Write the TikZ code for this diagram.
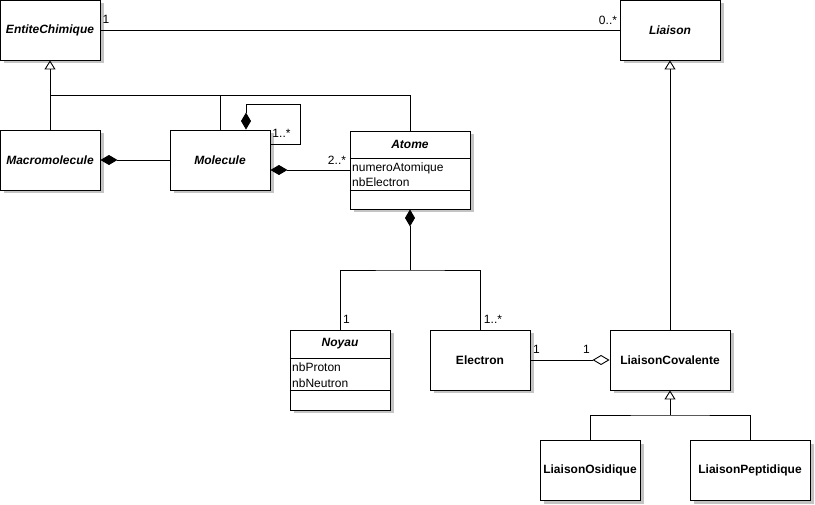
\documentclass[tikz,border=0pt]{standalone}
\usepackage{fontspec}
\setmainfont{Liberation Sans}
\usepackage{tikz}
\usetikzlibrary{positioning,arrows.meta,calc,shadows}
\definecolor{ink}  {HTML}{000000}
\definecolor{shade}{HTML}{C4C4C4}
\newcommand\umlfont{\fontsize{12}{15.5}\selectfont}
\tikzset{
  every node/.style={font=\umlfont},
  % --- nodes
  box/.style   = {draw=ink, fill=white, line width=0.9pt, inner sep=0pt,
                  minimum width=100pt, minimum height=60pt, font=\umlfont\bfseries,
                  drop shadow={shadow xshift=3.5pt, shadow yshift=-3.5pt,
                               fill=shade, opacity=1}},
  abs/.style   = {box, font=\umlfont\bfseries\itshape},
  cname/.style = {inner sep=0pt, font=\umlfont\bfseries\itshape},
  attr/.style  = {inner sep=0pt, align=left, anchor=west},
  mult/.style  = {inner sep=0pt},
  % --- edges
  line/.style  = {draw=ink, line width=0.9pt},
  sep/.style   = {line},
  gen/.style   = {line, -{Triangle[open, length=9pt, width=11pt, fill=white]}},
  comp/.style  = {line, -{Diamond[length=17pt, width=10pt]}},
  agg/.style   = {line, -{Diamond[open, length=17pt, width=10pt, fill=white]}},
}
\begin{document}
\begin{tikzpicture}[x=1pt,y=-1pt]
  \useasboundingbox (0,0) rectangle (815,505);
  % classes
  \node[abs] (ec)    at (50,30)   {EntiteChimique};
  \node[abs] (li)    at (670,30)  {Liaison};
  \node[abs] (macro) at (50,160)  {Macromolecule};
  \node[abs] (mol)   at (220,160) {Molecule};
  \node[box, minimum width=120pt, minimum height=78pt] (atome) at (410,170) {};
  \node[cname] (atomeN) at (410,144.5) {Atome};
  \draw[sep] (atome.west |- 0,158) -- (atome.east |- 0,158);
  \draw[sep] (atome.west |- 0,190) -- (atome.east |- 0,190);
  \node[attr] (atomeA) at (352,174.5) {numeroAtomique\\nbElectron};
  \node[box, minimum height=80pt] (noyau) at (340,370) {};
  \node[cname] (noyauN) at (340,344) {Noyau};
  \draw[sep] (noyau.west |- 0,358) -- (noyau.east |- 0,358);
  \draw[sep] (noyau.west |- 0,390) -- (noyau.east |- 0,390);
  \node[attr] (noyauA) at (292,375) {nbProton\\nbNeutron};
  \node[box] (electron) at (480,360) {Electron};
  \node[box, minimum width=120pt] (lc) at (670,360) {LiaisonCovalente};
  \node[box] (lo) at (590,470) {LiaisonOsidique};
  \node[box, minimum width=120pt] (lp) at (750,470) {LiaisonPeptidique};
  % inheritance
  \coordinate (gj) at (50,95);
  \draw[gen]  (macro.north) -- (ec.south);
  \draw[line] (gj) -| (atome.north);
  \draw[line] (mol.north) -- (mol.north |- gj);
  \draw[gen]  (lc.north) -- (li.south);
  \coordinate (lj) at (670,415);
  \draw[gen]  (lj) -- (lc.south);
  \draw[line] (lo.north) |- (lj) -| (lp.north);
  % associations
  \draw[line] (ec.east) -- (li.west);
  \draw[comp] (mol.west) -- (macro.east);
  \draw[comp] ($(mol.north east)+(0,15)$) -| ++(30,-40) -| ($(mol.north)+(26,0)$);
  \draw[comp] (atome.west) -- (atome.west -| mol.east);
  \coordinate (aj) at (410,270);
  \draw[comp] (aj) -- (atome.south);
  \draw[line] (noyau.north) |- (aj) -| (electron.north);
  \draw[agg]  (electron.east) -- (lc.west);
  % multiplicities
  \node[mult] (m1)  at (106,19.5)    {1};
  \node[mult] (m2)  at (608,20)      {0..*};
  \node[mult] (m3)  at (281.5,133)   {1..*};
  \node[mult] (m4)  at (337,160)     {2..*};
  \node[mult] (m5)  at (346.5,319.5) {1};
  \node[mult] (m6)  at (493,319.5)   {1..*};
  \node[mult] (m7)  at (536.5,349.5) {1};
  \node[mult] (m8)  at (586.5,349.5) {1};
\end{tikzpicture}
\end{document}
